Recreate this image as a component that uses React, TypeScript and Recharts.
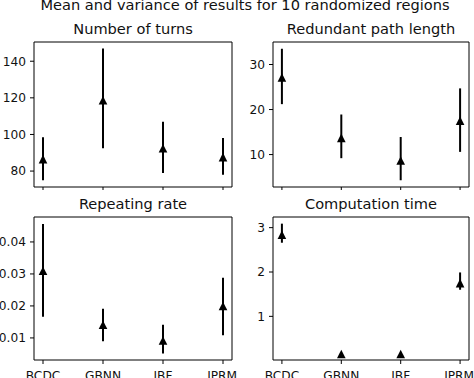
import React from "react";
import {
  ComposedChart,
  Scatter,
  ErrorBar,
  XAxis,
  YAxis,
  ReferenceArea,
} from "recharts";

const methods = ["BCDC", "GBNN", "IBF", "IPRM"];

const turnsMean = [86.5, 118.7, 92.5, 87.6];
const turnsLow = [75, 92.5, 79, 78];
const turnsHigh = [98.5, 147, 107, 98];

const redundantMean = [27.1, 13.7, 8.7, 17.5];
const redundantLow = [21.2, 9.2, 4.3, 10.6];
const redundantHigh = [33.5, 18.9, 13.9, 24.7];

const repeatMean = [0.031, 0.0141, 0.0092, 0.02];
const repeatLow = [0.0166, 0.009, 0.0051, 0.0108];
const repeatHigh = [0.0456, 0.0191, 0.0141, 0.0288];

const timeMean = [2.84, 0.15, 0.15, 1.75];
const timeLow = [2.66, 0.13, 0.13, 1.6];
const timeHigh = [3.09, 0.17, 0.17, 1.99];

const turnsTicks = [80, 100, 120, 140];
const redundantTicks = [10, 20, 30];
const repeatTicks = [0.01, 0.02, 0.03, 0.04];
const timeTicks = [1, 2, 3];

const font = "DejaVu Sans, sans-serif";
const xDomain: [number, number] = [-0.15, 3.15];

function build(mean: number[], low: number[], high: number[]) {
  return mean.map((m, i) => ({ x: i, y: m, err: [m - low[i], high[i] - m] }));
}

function Triangle(props: any) {
  const { cx, cy } = props;
  const s = 4.3;
  return (
    <path
      d={`M${cx},${cy - s}L${cx - s},${cy + s}L${cx + s},${cy + s}Z`}
      fill="#000"
    />
  );
}

type PanelProps = {
  left: number;
  top: number;
  height: number;
  yWidth: number;
  marginTop: number;
  xHeight: number;
  showLabels: boolean;
  data: { x: number; y: number; err: number[] }[];
  domain: [number, number];
  ticks: number[];
  fmt?: (v: number) => string;
};

function Panel(p: PanelProps) {
  return (
    <div style={{ position: "absolute", left: p.left, top: p.top }}>
      <ComposedChart
        width={237}
        height={p.height}
        data={p.data}
        margin={{ top: p.marginTop, right: 5, bottom: 0, left: 0 }}
      >
        <XAxis
          dataKey="x"
          type="number"
          domain={xDomain}
          ticks={[0, 1, 2, 3]}
          allowDataOverflow
          height={p.xHeight}
          tickSize={4}
          tickMargin={7}
          axisLine={false}
          tickLine={{ stroke: "#000" }}
          tick={{ fontSize: 12.2, fontFamily: font, fill: "#111" }}
          tickFormatter={(v: number) => (p.showLabels ? methods[v] : "")}
        />
        <YAxis
          dataKey="y"
          type="number"
          domain={p.domain}
          ticks={p.ticks}
          allowDataOverflow
          width={p.yWidth}
          tickSize={4}
          tickMargin={4}
          axisLine={false}
          tickLine={{ stroke: "#000" }}
          tick={{ fontSize: 12.2, fontFamily: font, fill: "#111" }}
          tickFormatter={p.fmt}
        />
        <ReferenceArea
          x1={xDomain[0]}
          x2={xDomain[1]}
          y1={p.domain[0]}
          y2={p.domain[1]}
          fill="none"
          stroke="#000"
          strokeWidth={1}
          fillOpacity={0}
        />
        <Scatter dataKey="y" shape={<Triangle />} isAnimationActive={false}>
          <ErrorBar
            dataKey="err"
            direction="y"
            width={0}
            stroke="#000"
            strokeWidth={2}
          />
        </Scatter>
      </ComposedChart>
    </div>
  );
}

export default function App() {
  return (
    <div
      style={{
        position: "absolute",
        left: 0,
        top: 0,
        width: 474,
        height: 378,
        overflow: "hidden",
        background: "#fff",
      }}
    >
      <Panel
        left={0}
        top={0}
        height={190}
        yWidth={34}
        marginTop={42}
        xHeight={3}
        showLabels={false}
        data={build(turnsMean, turnsLow, turnsHigh)}
        domain={[71.3, 150.5]}
        ticks={turnsTicks}
      />
      <Panel
        left={237}
        top={0}
        height={190}
        yWidth={36}
        marginTop={42}
        xHeight={3}
        showLabels={false}
        data={build(redundantMean, redundantLow, redundantHigh)}
        domain={[2.8, 35]}
        ticks={redundantTicks}
      />
      <Panel
        left={0}
        top={190}
        height={188}
        yWidth={34}
        marginTop={27}
        xHeight={18}
        showLabels={true}
        data={build(repeatMean, repeatLow, repeatHigh)}
        domain={[0.0031, 0.0478]}
        ticks={repeatTicks}
        fmt={(v: number) => v.toFixed(2)}
      />
      <Panel
        left={237}
        top={190}
        height={188}
        yWidth={36}
        marginTop={27}
        xHeight={18}
        showLabels={true}
        data={build(timeMean, timeLow, timeHigh)}
        domain={[0.016, 3.24]}
        ticks={timeTicks}
      />
      <svg
        width={474}
        height={378}
        style={{ position: "absolute", left: 0, top: 0, pointerEvents: "none" }}
      >
        <g fontFamily={font} fontSize={14.6} fill="#111" textAnchor="middle">
          <text x={245} y={10}>
            Mean and variance of results for 10 randomized regions
          </text>
          <text x={133} y={33.5}>Number of turns</text>
          <text x={371} y={33.5}>Redundant path length</text>
          <text x={133} y={208.5}>Repeating rate</text>
          <text x={371} y={208.5}>Computation time</text>
        </g>
      </svg>
    </div>
  );
}
